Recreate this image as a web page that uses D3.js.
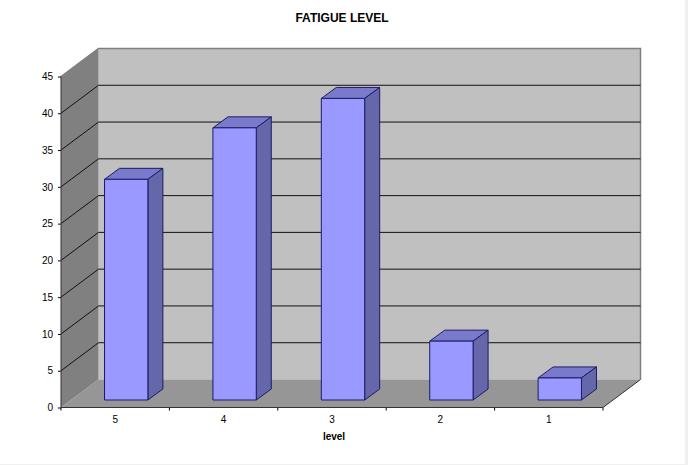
<!DOCTYPE html>
<html>
<head>
<meta charset="utf-8">
<script src="https://cdn.jsdelivr.net/npm/d3@7"></script>
<style>
  html, body { margin: 0; padding: 0; background: #f0f0f0; overflow: hidden; }
  svg { display: block; background: #fff; }
  text { font-family: "Liberation Sans", Arial, sans-serif; fill: #000; }
  .axis path { display: none; }
  .axis text { font-size: 10px; }
</style>
</head>
<body>
<div id="app"></div>
<script>
const title = 'FATIGUE LEVEL';
const xTitle = 'level';
const categories = ['5', '4', '3', '2', '1'];
const values = [30, 37, 41, 8, 3];
const yTicks = [0, 5, 10, 15, 20, 25, 30, 35, 40, 45];

const width = 685;
const height = 464;

// depth of the 3D box, and how far the bars sit inside it
const depth = { x: 37.5, y: -28 };
const barInset = { x: 11, y: -7.5 };
const barDepth = { x: 15, y: -11 };

const colors = {
  wallBack: '#c0c0c0',
  wallSide: '#808080',
  floor: '#969696',
  wallEdge: '#808080',
  grid: '#111',
  barFront: '#9999ff',
  barTop: '#7a7acc',
  barSide: '#6666aa',
  barLine: '#1c1c66',
};

const svg = d3.select('#app').append('svg').attr('width', width).attr('height', height);

const xScale = d3.scaleBand().domain(categories).range([61, 603]).paddingInner(0.6).paddingOuter(0.3);
const yScale = d3.scaleLinear().domain([0, 45]).range([407.5, 76.5]);

const x0 = xScale.range()[0];
const x1 = xScale.range()[1];
const yBase = yScale(0);
const yTop = yScale(45);

function poly(points) {
  return points.map(p => p.join(',')).join(' ');
}

// walls and floor
svg.append('polygon')
  .attr('points', poly([
    [x0 + depth.x, yTop + depth.y],
    [x1 + depth.x, yTop + depth.y],
    [x1 + depth.x, yBase + depth.y],
    [x0 + depth.x, yBase + depth.y],
  ]))
  .attr('fill', colors.wallBack);

svg.append('polygon')
  .attr('points', poly([
    [x0, yTop],
    [x0 + depth.x, yTop + depth.y],
    [x0 + depth.x, yBase + depth.y],
    [x0, yBase],
  ]))
  .attr('fill', colors.wallSide);

svg.append('polygon')
  .attr('points', poly([
    [x0, yBase],
    [x0 + depth.x, yBase + depth.y],
    [x1 + depth.x, yBase + depth.y],
    [x1, yBase],
  ]))
  .attr('fill', colors.floor);

// wall outline
svg.append('polyline')
  .attr('points', poly([
    [x0, yTop],
    [x0 + depth.x, yTop + depth.y],
    [x1 + depth.x, yTop + depth.y],
    [x1 + depth.x, yBase + depth.y],
  ]))
  .attr('fill', 'none')
  .attr('stroke', colors.wallEdge)
  .attr('stroke-width', 1.5);

// gridlines run along the side wall and the back wall
svg.append('g')
  .selectAll('polyline')
  .data(yTicks.slice(1, -1))
  .enter()
  .append('polyline')
  .attr('points', d => poly([
    [x0, yScale(d)],
    [x0 + depth.x, yScale(d) + depth.y],
    [x1 + depth.x, yScale(d) + depth.y],
  ]))
  .attr('fill', 'none')
  .attr('stroke', colors.grid)
  .attr('stroke-width', 1);

// bars: a front face, a top and a side
const barGroups = svg.append('g')
  .selectAll('g')
  .data(values)
  .enter()
  .append('g')
  .attr('stroke', colors.barLine)
  .attr('stroke-width', 1)
  .attr('stroke-linejoin', 'round');

const barLeft = (d, i) => xScale(categories[i]) + barInset.x;
const barRight = (d, i) => barLeft(d, i) + xScale.bandwidth();
const barTopY = d => yScale(d) + barInset.y;
const barBottomY = yBase + barInset.y;

barGroups.append('polygon')
  .attr('fill', colors.barTop)
  .attr('points', (d, i) => poly([
    [barLeft(d, i), barTopY(d)],
    [barLeft(d, i) + barDepth.x, barTopY(d) + barDepth.y],
    [barRight(d, i) + barDepth.x, barTopY(d) + barDepth.y],
    [barRight(d, i), barTopY(d)],
  ]));

barGroups.append('polygon')
  .attr('fill', colors.barSide)
  .attr('points', (d, i) => poly([
    [barRight(d, i), barTopY(d)],
    [barRight(d, i) + barDepth.x, barTopY(d) + barDepth.y],
    [barRight(d, i) + barDepth.x, barBottomY + barDepth.y],
    [barRight(d, i), barBottomY],
  ]));

barGroups.append('rect')
  .attr('fill', colors.barFront)
  .attr('x', barLeft)
  .attr('y', barTopY)
  .attr('width', xScale.bandwidth())
  .attr('height', d => barBottomY - barTopY(d));

// axes
const yAxis = d3.axisLeft(yScale).tickValues(yTicks).tickSize(3).tickPadding(5);
svg.append('g')
  .attr('class', 'axis')
  .attr('transform', `translate(${x0},0)`)
  .call(yAxis);

const xAxis = d3.axisBottom(xScale).tickSize(0).tickPadding(8);
svg.append('g')
  .attr('class', 'axis')
  .attr('transform', `translate(0,${yBase})`)
  .call(xAxis);

// the x ticks sit between the categories, so they need their own positions
const step = xScale.step();
svg.append('g')
  .selectAll('line')
  .data(categories.concat(''))
  .enter()
  .append('line')
  .attr('x1', (d, i) => x0 + i * step)
  .attr('x2', (d, i) => x0 + i * step)
  .attr('y1', yBase)
  .attr('y2', yBase + 3)
  .attr('stroke', '#000');

// front edges of the floor
svg.append('polyline')
  .attr('points', poly([
    [x0, yTop],
    [x0, yBase],
    [x1, yBase],
    [x1 + depth.x, yBase + depth.y],
  ]))
  .attr('fill', 'none')
  .attr('stroke', '#333')
  .attr('stroke-width', 1);

svg.append('text')
  .attr('x', 342)
  .attr('y', 22)
  .attr('text-anchor', 'middle')
  .attr('font-size', 12)
  .attr('font-weight', 'bold')
  .text(title);

svg.append('text')
  .attr('x', 334)
  .attr('y', 440)
  .attr('text-anchor', 'middle')
  .attr('font-size', 10)
  .attr('font-weight', 'bold')
  .text(xTitle);
</script>
</body>
</html>
